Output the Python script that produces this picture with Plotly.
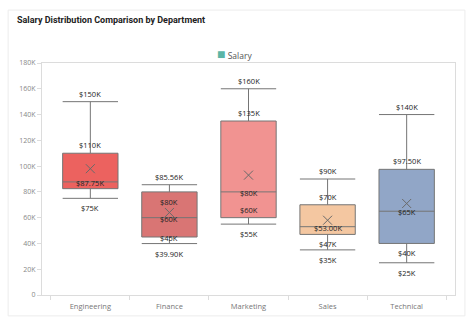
import plotly.graph_objects as go

departments = ["Engineering", "Finance", "Marketing", "Sales", "Technical"]
min_vals = [75, 39.9, 55, 35, 25]
q1_vals = [82.5, 45, 60, 47, 40]
median_vals = [87.75, 60, 80, 53, 65]
q3_vals = [110, 80, 135, 70, 97.5]
max_vals = [150, 85.56, 160, 90, 140]
mean_vals = [98, 64, 93, 58, 71]
colors = ["#EC625F", "#D97574", "#F19391", "#F4C7A1", "#91A6C7"]
series_name = "Salary"
legend_color = "#5BB5A6"

# value labels: (text, which stat, placement)
labels = {
    "Engineering": [("$150K", "max", "above"), ("$110K", "q3", "above"), ("$87.75K", "median", "center"), ("$75K", "min", "below")],
    "Finance": [("$85.56K", "max", "above"), ("$80K", "q3", "below"), ("$60K", "median", "center"), ("$45K", "q1", "center"), ("$39.90K", "min", "below")],
    "Marketing": [("$160K", "max", "above"), ("$135K", "q3", "above"), ("$80K", "median", "center"), ("$60K", "q1", "above"), ("$55K", "min", "below")],
    "Sales": [("$90K", "max", "above"), ("$70K", "q3", "above"), ("$53.00K", "median", "center"), ("$47K", "q1", "below"), ("$35K", "min", "below")],
    "Technical": [("$140K", "max", "above"), ("$97.50K", "q3", "above"), ("$65K", "median", "center"), ("$40K", "q1", "below"), ("$25K", "min", "below")],
}

fig = go.Figure()
for i, d in enumerate(departments):
    fig.add_trace(go.Box(
        x=[d], q1=[q1_vals[i]], median=[median_vals[i]], q3=[q3_vals[i]],
        lowerfence=[min_vals[i]], upperfence=[max_vals[i]],
        fillcolor=colors[i], line=dict(color="#757575", width=1),
        whiskerwidth=1, width=0.7, showlegend=False, hoverinfo="skip", name=series_name,
    ))

fig.add_trace(go.Scatter(
    x=departments, y=mean_vals, mode="markers",
    marker=dict(symbol="x-thin", size=9, line=dict(color="#6a6a6a", width=1)),
    showlegend=False, hoverinfo="skip",
))

shift = {"above": 8, "below": -10, "center": -1}
for i, d in enumerate(departments):
    stats = {"min": min_vals[i], "q1": q1_vals[i], "median": median_vals[i], "q3": q3_vals[i], "max": max_vals[i]}
    for text, stat, place in labels[d]:
        fig.add_annotation(x=d, y=stats[stat], text=text, showarrow=False,
                           yshift=shift[place], font=dict(size=7.5, color="#222"))

# title
fig.add_annotation(xref="paper", yref="paper", x=-0.066, y=1.185, xanchor="left", yanchor="middle",
                   text="<b>Salary Distribution Comparison by Department</b>", showarrow=False,
                   font=dict(family="Roboto, sans-serif", size=9, color="#222"))

# legend (symbol + label)
fig.add_annotation(xref="paper", yref="paper", x=0.465, y=1.04, xanchor="center", yanchor="middle",
                   text=f'<span style="color:{legend_color};font-size:14px">■</span> {series_name}', showarrow=False,
                   font=dict(size=8.5, color="#555"))

fig.add_shape(type="rect", xref="paper", yref="paper", x0=-0.082, x1=1.024, y0=-0.09, y1=1.228,
              line=dict(color="#ececec", width=1), layer="below")

fig.update_layout(
    width=474, height=324,
    margin=dict(l=42, r=19, t=63, b=29),
    paper_bgcolor="white", plot_bgcolor="white",
    font=dict(family="Open Sans, sans-serif", color="#777"),
    showlegend=False,
    boxgap=0.3,
)
fig.update_xaxes(
    type="category", showgrid=False, showline=True, linecolor="#dcdcdc", mirror=True,
    ticks="outside", tickson="boundaries", ticklen=4, tickcolor="#dcdcdc",
    ticklabelstandoff=4,
    tickfont=dict(size=7.5, color="#777"),
)
fig.update_yaxes(
    range=[0, 180], showgrid=False, zeroline=False, showline=True, linecolor="#dcdcdc", mirror=True,
    ticks="outside", ticklen=4, tickcolor="#dcdcdc", tickvals=[0, 20, 40, 60, 80, 100, 120, 140, 160, 180],
    ticktext=["0", "20K", "40K", "60K", "80K", "100K", "120K", "140K", "160K", "180K"],
    tickfont=dict(size=7, color="#888"),
)

fig.write_html("out.html")
